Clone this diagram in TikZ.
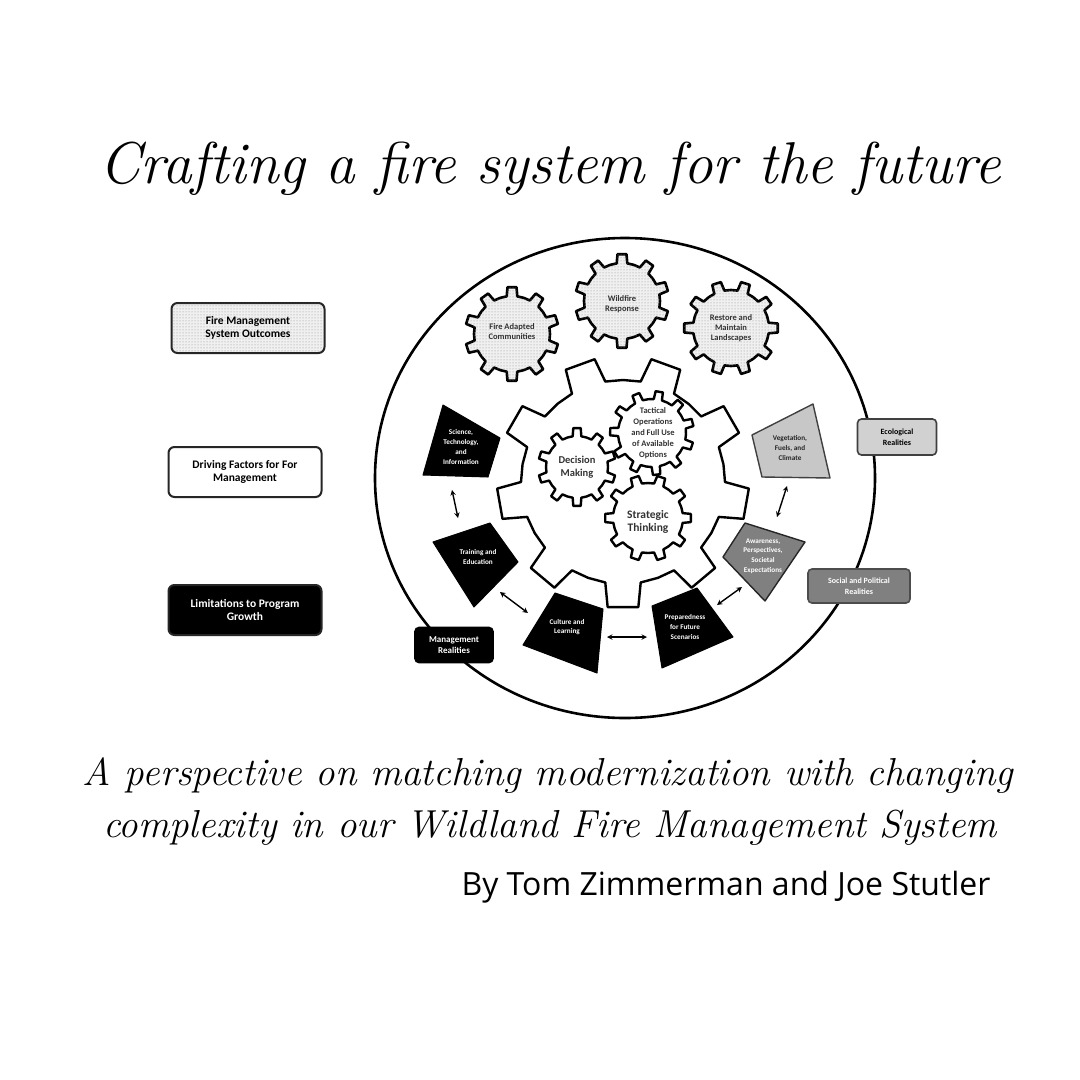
\documentclass[tikz,border=0pt]{standalone}
\usepackage{fontspec}
\newfontfamily\diafont{Carlito}
\newfontfamily\bylinefont{Open Sans}
\usetikzlibrary{patterns}

% cog outline: center, teeth, root r, tip r, first tooth angle, root half-angle, tip half-angle, style
\newcommand{\cogwheel}[8]{%
  \draw[#8, shift={(#1)}] ({#5-#6}:#3)
    foreach \cogi in {1,...,#2} {
      -- ({#5+(\cogi-1)*360/#2-#7}:#4) -- ({#5+(\cogi-1)*360/#2+#7}:#4)
      -- ({#5+(\cogi-1)*360/#2+#6}:#3) -- ({#5+(\cogi-0.5)*360/#2}:#3)
      -- ({#5+\cogi*360/#2-#6}:#3)
    } -- cycle;}

\begin{document}
\begin{tikzpicture}[x=1pt, y=-1pt,
        legbox/.style={rectangle, rounded corners=6pt, line width=2pt, minimum width=153, minimum height=50, align=center, font=\diafont\bfseries\fontsize{11.5}{12.5}\selectfont},
        dotted fill/.style={fill=black!6, postaction={pattern=dots, pattern color=black!45}},
        smallbox/.style={rectangle, rounded corners=4pt, line width=1.6pt, align=center, inner sep=2pt, font=\diafont\bfseries\fontsize{8}{10.5}\selectfont},
        cogdot/.style={line width=2.6pt, line join=round, dotted fill},
        cogplain/.style={line width=2.4pt, line join=round, fill=white},
        coglabel/.style={align=center, text=black!80, font=\diafont\bfseries\fontsize{8.5}{10}\selectfont},
        quadblack/.style={fill=black, draw=black, line width=1pt, line join=round},
        quadtxt/.style={align=center, text=white, font=\diafont\bfseries\fontsize{7.2}{9.8}\selectfont},
        twoway/.style={<->, >=stealth, line width=1.4pt}
    ]
        \fill[white] (0,0) rectangle (1080,1080);
        \useasboundingbox (0,0) rectangle (1080,1080);

        % headings
        \node[anchor=base, font=\itshape\fontsize{59}{66}\selectfont] (title) at (550,183) {Crafting a fire system for the future};
        \node[anchor=base, font=\itshape\fontsize{39}{46}\selectfont] (sub1) at (548,785) {A perspective on matching modernization with changing};
        \node[anchor=base, font=\itshape\fontsize{39}{46}\selectfont] (sub2) at (550,837) {complexity in our Wildland Fire Management System};
        \node[anchor=base, font=\bylinefont\fontsize{32}{38}\selectfont] (byline) at (726,895) {By Tom Zimmerman and Joe Stutler};

        % legend
        \node[legbox, draw=black!85, dotted fill] (outcomes) at (248,328) {Fire Management\\System Outcomes};
        \node[legbox, draw=black!85, fill=white] (drivers) at (245,472) {Driving Factors for For\\Management};
        \node[legbox, draw=black!85, fill=black, text=white] (limits) at (245,610) {Limitations to Program\\Growth};

        % outer ring
        \draw[line width=2.6pt] (625,478) ellipse [x radius=250, y radius=240];

        % outcome cogs
        \cogwheel{512,334}{10}{38}{47}{-90}{8}{5.5}{cogdot}
        \cogwheel{622,301}{10}{38}{47}{-90}{8}{5.5}{cogdot}
        \cogwheel{731,328}{10}{38}{47}{-72}{8}{5.5}{cogdot}
        \node[coglabel] (fac) at (512,332) {Fire Adapted\\Communities};
        \node[coglabel] (wfr) at (622,304) {Wildfire\\Response};
        \node[coglabel] (rml) at (731,328) {Restore and\\Maintain\\Landscapes};

        % central cog and inner cogs
        \cogwheel{623,482}{9}{102}{126}{10}{10}{7}{cogplain}
        \cogwheel{577,467}{10}{31}{39}{-90}{8}{5.5}{cogplain}
        \cogwheel{652,433}{11}{34}{42}{-80}{7}{5}{cogplain}
        \cogwheel{648,518}{10}{35}{43}{-72}{8}{5.5}{cogplain}
        \node[coglabel, font=\diafont\bfseries\fontsize{10.5}{13}\selectfont] (dm) at (577,467) {Decision\\Making};
        \node[coglabel, font=\diafont\bfseries\fontsize{8.5}{11}\selectfont] (tac) at (653,433) {Tactical\\Operations\\and Full Use\\of Available\\Options};
        \node[coglabel, font=\diafont\bfseries\fontsize{11.5}{13.5}\selectfont] (st) at (648,522) {Strategic\\Thinking};

        % driving factors and limitations
        \fill[quadblack] (443,405) -- (500,438) -- (488,477) -- (423,475) -- cycle;
        \fill[quadblack] (433,542) -- (490,523) -- (518,562) -- (474,607) -- cycle;
        \fill[quadblack] (523,645) -- (555,593) -- (603,609) -- (597,673) -- cycle;
        \fill[quadblack] (652,606) -- (697,588) -- (733,637) -- (662,668) -- cycle;
        \filldraw[fill=black!50, draw=black!85, line width=1.4pt, line join=round] (723,557) -- (745,523) -- (805,542) -- (765,601) -- cycle;
        \filldraw[fill=black!22, draw=black!75, line width=1.4pt, line join=round] (752,435) -- (813,404) -- (830,478) -- (762,477) -- cycle;
        \node[quadtxt] (sti) at (461,447) {Science,\\Technology,\\and\\Information};
        \node[quadtxt] (tre) at (478,557) {Training and\\Education};
        \node[quadtxt] (cul) at (567,627) {Culture and\\Learning};
        \node[quadtxt] (pre) at (685,627) {Preparedness\\for Future\\Scenarios};
        \node[quadtxt] (awa) at (763,556) {Awareness,\\Perspectives,\\Societal\\Expectations};
        \node[quadtxt, text=black!85] (veg) at (790,448) {Vegetation,\\Fuels, and\\Climate};

        % realities
        \node[smallbox, draw=black!75, fill=black!18, minimum width=79, minimum height=36] (eco) at (897,437) {Ecological\\Realities};
        \node[smallbox, draw=black!70, fill=black!50, text=white, minimum width=102, minimum height=34] (soc) at (859,586) {Social and Political\\Realities};
        \node[smallbox, draw=black, fill=black, text=white, minimum width=78, minimum height=35, font=\diafont\bfseries\fontsize{9}{11.5}\selectfont] (mgt) at (454,645) {Management\\Realities};

        % links
        \coordinate (sti-s) at (452,490);
        \coordinate (tre-n) at (458,518);
        \coordinate (tre-e) at (500,592);
        \coordinate (cul-w) at (528,613);
        \coordinate (cul-e) at (607,637);
        \coordinate (pre-w) at (647,637);
        \coordinate (pre-e) at (717,605);
        \coordinate (awa-w) at (742,587);
        \coordinate (veg-s) at (787,486);
        \coordinate (awa-n) at (777,517);
        \draw[twoway] (sti-s) -- (tre-n);
        \draw[twoway] (tre-e) -- (cul-w);
        \draw[twoway] (cul-e) -- (pre-w);
        \draw[twoway] (pre-e) -- (awa-w);
        \draw[twoway] (veg-s) -- (awa-n);
    \end{tikzpicture}
\end{document}
